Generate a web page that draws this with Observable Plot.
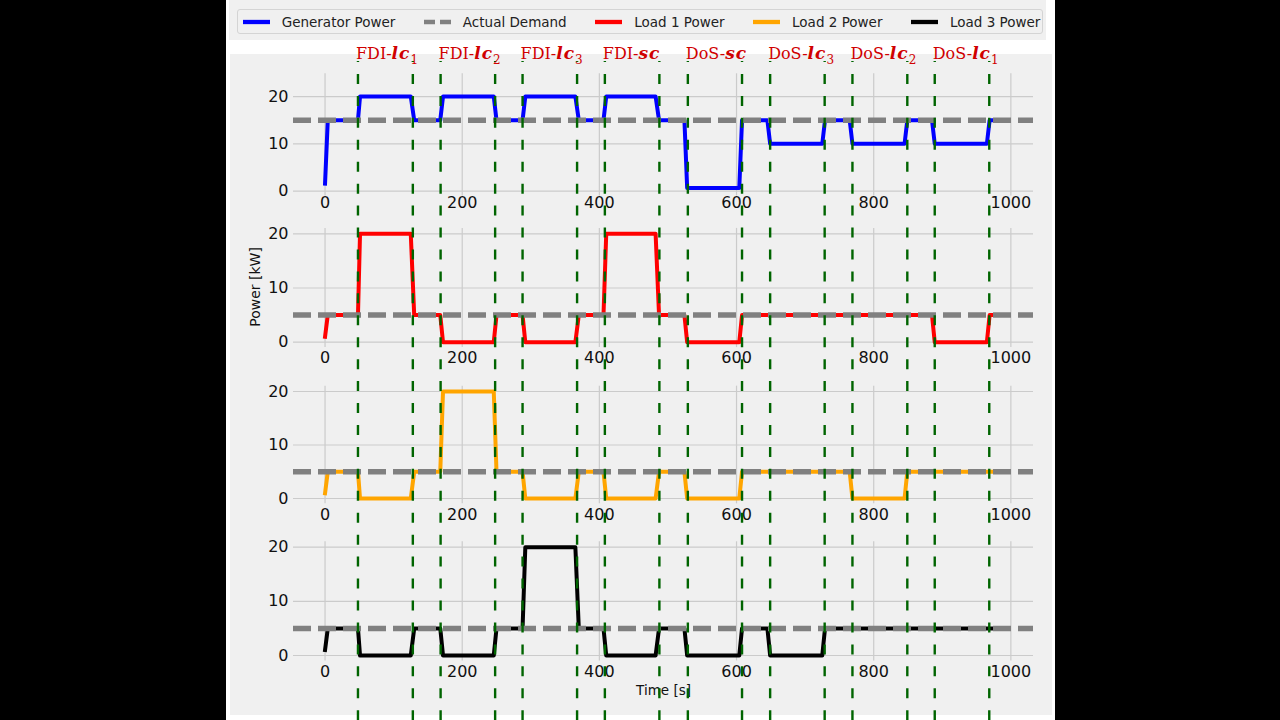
<!DOCTYPE html>
<html>
<head>
<meta charset="utf-8">
<script src="https://cdn.jsdelivr.net/npm/d3@7"></script>
<script src="https://cdn.jsdelivr.net/npm/@observablehq/plot@0.6"></script>
<style>
html, body { margin: 0; padding: 0; background: #000; }
#page { position: relative; width: 1280px; height: 720px; background: #000; overflow: hidden; font-family: "DejaVu Sans", sans-serif; }
#fig { position: absolute; left: 226px; top: 0; width: 829px; height: 720px; background: #fff; overflow: hidden; }
#strip { position: absolute; left: 3px; top: 0; width: 817px; height: 40px; background: #f0f0f0; }
#panel { position: absolute; left: 4px; top: 54px; width: 822px; height: 661px; background: #f0f0f0; }
#legend { position: absolute; left: 11px; top: 9px; width: 806px; height: 25px; box-sizing: border-box;
  border: 1px solid #d4d4d4; border-radius: 3px; background: #f0f0f0; display: flex; align-items: center;
  padding-left: 4.7px; gap: 28.5px; font-size: 13.5px; color: #222; }
.item { display: flex; align-items: center; gap: 12px; white-space: nowrap; }
.item svg { display: block; }
.layer { position: absolute; left: 0; top: 0; }
</style>
</head>
<body>
<div id="page">
  <div id="fig">
    <div id="strip"></div>
    <div id="panel"></div>
    <div id="legend"></div>
  </div>
</div>
<script>
// ---- series: [time (s), power (kW)] ----
const generatorPower = [
  [0, 1.6], [4, 15], [48, 15], [51, 20], [125, 20], [130, 15], [168, 15], [172, 20],
  [246, 20], [250, 15], [288, 15], [292, 20], [365, 20], [370, 15], [406, 15], [410, 20],
  [482, 20], [487, 15], [524, 15], [528, 0.7], [604, 0.7], [608, 15], [645, 15], [649, 10],
  [725, 10], [729, 15], [765, 15], [769, 10], [845, 10], [849, 15], [885, 15], [889, 10],
  [965, 10], [969, 15], [982, 15]
];
const load1Power = [
  [0, 1], [4, 5], [48, 5], [51, 20], [125, 20], [130, 5], [168, 5], [172, 0],
  [246, 0], [250, 5], [288, 5], [292, 0], [365, 0], [370, 5], [406, 5], [410, 20],
  [482, 20], [487, 5], [524, 5], [528, 0], [604, 0], [608, 5], [885, 5], [889, 0],
  [965, 0], [969, 5], [982, 5]
];
const load2Power = [
  [0, 1], [4, 5], [48, 5], [51, 0], [125, 0], [130, 5], [168, 5], [172, 20],
  [246, 20], [250, 5], [288, 5], [292, 0], [365, 0], [370, 5], [406, 5], [410, 0],
  [482, 0], [487, 5], [524, 5], [528, 0], [604, 0], [608, 5], [765, 5], [769, 0],
  [845, 0], [849, 5], [982, 5]
];
const load3Power = [
  [0, 1], [4, 5], [48, 5], [51, 0], [125, 0], [130, 5], [168, 5], [172, 0],
  [246, 0], [250, 5], [288, 5], [292, 20], [365, 20], [370, 5], [406, 5], [410, 0],
  [482, 0], [487, 5], [524, 5], [528, 0], [604, 0], [608, 5], [645, 5], [649, 0],
  [725, 0], [729, 5], [982, 5]
];
const generatorDemand = 15;
const loadDemand = 5;

// ---- attack windows ----
const attackStarts = [48, 168.5, 288, 408, 529, 649, 769, 889];
const attackEnds   = [128, 248, 367.5, 487.5, 608, 728.5, 849, 968.5];
const attackLabels = ["FDI-lc_1", "FDI-lc_2", "FDI-lc_3", "FDI-sc", "DoS-sc", "DoS-lc_3", "DoS-lc_2", "DoS-lc_1"];

// ---- ticks, axis titles and legend ----
const xTicks = [0, 200, 400, 600, 800, 1000];
const yTicks = [0, 10, 20];
const xTitle = "Time [s]";
const yTitle = "Power [kW]";
const legendNames = ["Generator Power", "Actual Demand", "Load 1 Power", "Load 2 Power", "Load 3 Power"];
const legendColors = ["#0000ff", "#808080", "#ff0000", "#ffa500", "#000000"];

// ---- layout ----
const W = 829, H = 720, ML = 67, MR = 22;
const xDomain = [-46, 1033];
const baseStyle = { background: "transparent", fontFamily: "DejaVu Sans", fontSize: "16px", color: "#111", overflow: "visible" };

function subplot({ points, color, demand, top, bottom, yMax, pad, extra = [] }) {
  return Plot.plot({
    width: W, height: H,
    marginLeft: ML, marginRight: MR, marginTop: top, marginBottom: H - bottom,
    x: { domain: xDomain },
    y: { domain: [-1, yMax] },
    style: baseStyle,
    marks: [
      Plot.ruleX(xTicks, { stroke: "#cbcbcb", strokeWidth: 1.2 }),
      Plot.ruleY(yTicks, { stroke: "#cbcbcb", strokeWidth: 1.2 }),
      Plot.axisX({ ticks: xTicks, tickFormat: d => String(d), tickSize: 0, tickPadding: pad, fontSize: 16, label: null, fill: "#111" }),
      Plot.axisY({ ticks: yTicks, tickFormat: d => String(d), tickSize: 0, tickPadding: 5, fontSize: 16, label: null, fill: "#111" }),
      Plot.line(points, { x: d => d[0], y: d => d[1], stroke: color, strokeWidth: 4, strokeLinejoin: "round", strokeLinecap: "square" }),
      Plot.ruleY([demand], { stroke: "#808080", strokeWidth: 5.5, strokeDasharray: "18,7" }),
      ...extra
    ]
  });
}

const fig = document.getElementById("fig");
const charts = [
  subplot({ points: generatorPower, color: legendColors[0], demand: generatorDemand, top: 73.3, bottom: 195.45, yMax: 24.8, pad: 0.6 }),
  subplot({ points: load1Power, color: legendColors[2], demand: loadDemand, top: 227.9, bottom: 347.1, yMax: 21, pad: 4.3,
    // y title, rotated, left of the tick labels
    extra: [Plot.text([yTitle], { text: d => d, x: () => -101, y: () => 10.2, rotate: -90, fontSize: 14, fill: "#111" })] }),
  subplot({ points: load2Power, color: legendColors[3], demand: loadDemand, top: 385.65, bottom: 503.35, yMax: 21, pad: 5 }),
  subplot({ points: load3Power, color: legendColors[4], demand: loadDemand, top: 541.3, bottom: 660.4, yMax: 21, pad: 5,
    extra: [Plot.text([xTitle], { text: d => d, frameAnchor: "bottom", lineAnchor: "middle", dy: 29.6, fontSize: 13.5, fill: "#111" })] })
];
for (const c of charts) { c.classList.add("layer"); fig.appendChild(c); }

// attack boundaries and their names, drawn across all panels
const attacks = attackStarts.map((t, i) => ({ t, label: attackLabels[i] }));
const overlay = Plot.plot({
  width: W, height: H,
  marginLeft: ML, marginRight: MR, marginTop: 61, marginBottom: 0,
  x: { domain: xDomain, axis: null },
  style: baseStyle,
  marks: [
    Plot.ruleX([...attackStarts, ...attackEnds], { stroke: "#006400", strokeWidth: 2.4, strokeDasharray: "10,11.94", strokeDashoffset: 9 }),
    Plot.text(attacks, { x: "t", text: "label", frameAnchor: "top", textAnchor: "start", lineAnchor: "bottom", dy: -2.7, dx: -2,
      fill: "#d00000", fontFamily: "DejaVu Serif", fontSize: 16 })
  ]
});
overlay.classList.add("layer");
fig.appendChild(overlay);

// typeset names like "FDI-lc_1" as roman prefix, italic symbol and subscript
const NS = "http://www.w3.org/2000/svg";
overlay.querySelectorAll('g[aria-label="text"] text').forEach(el => {
  const m = /^([A-Za-z]+-)([a-z]+)(?:_(\d))?$/.exec(el.textContent.trim());
  if (!m) return;
  el.textContent = "";
  const add = (str, attrs) => {
    const ts = document.createElementNS(NS, "tspan");
    for (const k in attrs) ts.setAttribute(k, attrs[k]);
    ts.textContent = str;
    el.appendChild(ts);
  };
  add(m[1], {});
  add(m[2], { "font-style": "italic", "font-weight": "bold", "font-size": "17px", "letter-spacing": "1px" });
  if (m[3]) add(m[3], { "font-size": "12px", dy: "5" });
});

// legend
const legend = document.getElementById("legend");
legendNames.forEach((name, i) => {
  const item = document.createElement("div");
  item.className = "item";
  const dashed = name === "Actual Demand";
  item.innerHTML = `<svg width="27" height="10"><line x1="0" y1="5" x2="27" y2="5" stroke="${legendColors[i]}" stroke-width="4.3"${dashed ? ' stroke-dasharray="11,5"' : ""}/></svg><span>${name}</span>`;
  legend.appendChild(item);
});
</script>
</body>
</html>
